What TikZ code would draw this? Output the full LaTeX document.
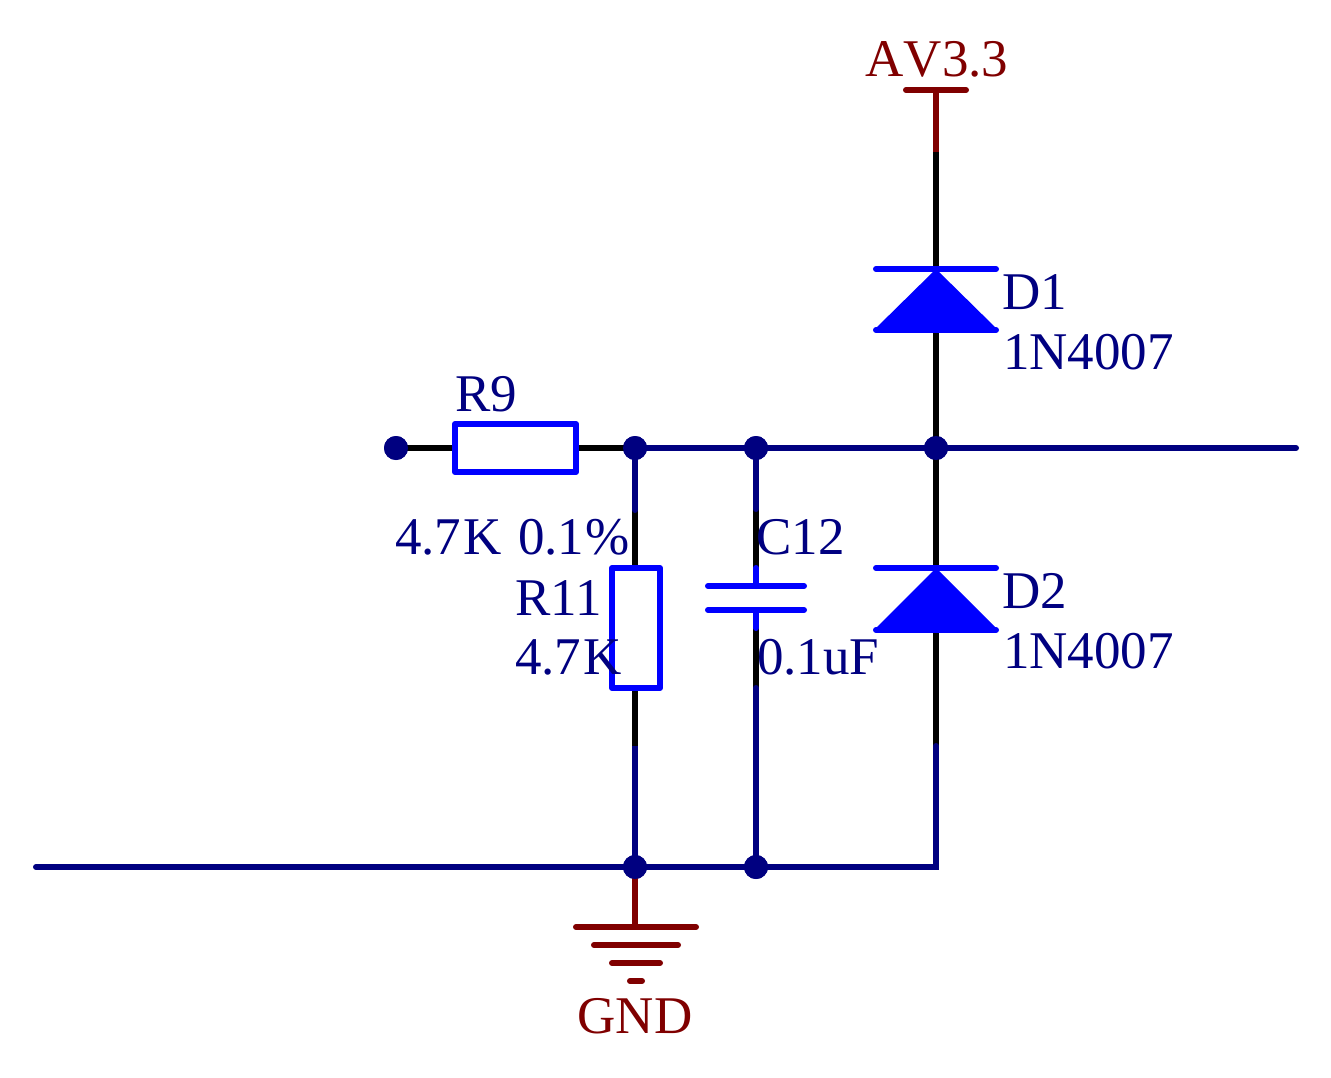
\documentclass[tikz,border=0pt]{standalone}
\usepackage{fontspec}
\setmainfont{Liberation Serif}
\newfontfamily\plainserif[Kerning=Off]{Liberation Serif}
\definecolor{wirec}{RGB}{0,0,128}
\definecolor{partc}{RGB}{0,0,255}
\definecolor{powc}{RGB}{128,0,0}
\tikzset{
  x=1pt,y=-1pt,
  wire/.style={draw=wirec,line width=6pt,line cap=round},
  pin/.style={draw=black,line width=6pt},
  pinb/.style={draw=partc,line width=6pt,line cap=round},
  pow/.style={draw=powc,line width=6pt,line cap=round},
  body/.style={draw=partc,line width=6pt,line join=round,inner sep=0pt,outer sep=0pt,rectangle},
  plate/.style={draw=partc,line width=6pt,line cap=round},
  junc/.style={circle,fill=wirec,inner sep=0pt,minimum size=24pt},
  lab/.style={text=wirec,font=\fontsize{53}{53}\selectfont,inner sep=0pt,anchor=base west},
  powlab/.style={text=powc,font=\fontsize{53}{53}\selectfont,inner sep=0pt,anchor=base},
}
\begin{document}
\begin{tikzpicture}
\useasboundingbox (0,0) rectangle (1331,1078);
% anchors
\coordinate (vcc) at (936,90);
\coordinate (vccL) at (906,90);
\coordinate (vccR) at (966,90);
\coordinate (vccend) at (936,152);
\coordinate (d1k) at (936,269);
\coordinate (d1a) at (936,330);
\coordinate (d2k) at (936,568);
\coordinate (d2a) at (936,630);
\coordinate (d2p) at (936,746);
\coordinate (corner) at (936,867);
\coordinate (right) at (1296,448);
\coordinate (left) at (36,867);
\coordinate (r11a) at (635,510);
\coordinate (r11t) at (635,568);
\coordinate (r11b) at (635,688);
\coordinate (r11p) at (635,746);
\coordinate (c1) at (756,586);
\coordinate (c2) at (756,610);
\coordinate (c1n) at (756,509);
\coordinate (c1p) at (756,568);
\coordinate (c2p) at (756,628);
\coordinate (c2n) at (756,688);
\coordinate (gnd) at (635,927);
% junctions (placed first so the wires can name them)
\node[junc] (j0) at (396,448) {};
\node[junc] (j1) at (635,448) {};
\node[junc] (j2) at (756,448) {};
\node[junc] (j3) at (936,448) {};
\node[junc] (j4) at (635,867) {};
\node[junc] (j5) at (756,867) {};
% wires
\draw[pin] (vccend) -- (d1k);
\draw[pow,line cap=butt] (vcc) -- (vccend);
\draw[pow] (vccL) -- (vccR);
\draw[pin] (d1a) -- (d2k);
\draw[pin] (d2a) -- (d2p);
\draw[wire] (j1.center) -- (right);
\draw[wire,line cap=butt] (d2p) -- (corner);
\draw[wire,line join=miter] (left) -- (corner) -- (d2p);
\draw[pin] (j0.center) -- (j1.center);
\draw[pin] (r11a) -- (r11t);
\draw[wire] (j1.center) -- (r11a);
\draw[pin] (r11b) -- (r11p);
\draw[wire,line cap=butt] (r11p) -- (j4.center);
\draw[pin] (c1n) -- (c1p);
\draw[pin] (c2p) -- (c2n);
\draw[wire] (j2.center) -- (c1n);
\draw[pinb] (c1p) -- (c1);
\draw[pinb] (c2) -- (c2p);
\draw[wire] (c2n) -- (j5.center);
\draw[pow,line cap=butt] (j4.center) -- (gnd);
% junctions redrawn on top
\foreach \p in {j0,j1,j2,j3,j4,j5} \fill[wirec] (\p.center) circle (12);
% R9
\node[body,fill=white,minimum width=121pt,minimum height=48pt] (r9) at (515.5,448) {};
% R11
\node[body,fill=white,minimum width=48pt,minimum height=120pt] (r11) at (636,628) {};
% C12
\draw[plate] (708,586) -- (804,586);
\draw[plate] (708,610) -- (804,610);
% D1
\fill[partc] (874,330) -- (936,269) -- (998,330) -- cycle;
\draw[plate] (876,269) -- (996,269);
\draw[plate] (876,330) -- (996,330);
% D2
\fill[partc] (874,630) -- (936,568) -- (998,630) -- cycle;
\draw[plate] (876,568) -- (996,568);
\draw[plate] (876,630) -- (996,630);
% ground
\draw[pow] (576,927) -- (696,927);
\draw[pow] (594,945) -- (678,945);
\draw[pow] (612,963) -- (660,963);
\draw[pow] (630,981) -- (642,981);
% labels
\node[powlab,font=\fontsize{53}{53}\plainserif] (tvcc) at (937,77) {AV3.3};
\node[powlab] (tgnd) at (635,1033) {GND};
\node[lab] (tr9) at (455,411) {R9};
\node[lab] (tr9v) at (395,554) {4.7\kern2pt K\hspace{16.5pt}0.1\kern1pt\%};
\node[lab] (tr11) at (515,615) {R11};
\node[lab] (tr11v) at (515,674) {4.7\kern2pt K};
\node[lab] (tc) at (756,554) {C12};
\node[lab] (tcv) at (757,674) {0.1uF};
\node[lab] (td1) at (1002,309) {D1};
\node[lab] (td1v) at (1003,369) {1N4007};
\node[lab] (td2) at (1002,608) {D2};
\node[lab] (td2v) at (1003,668) {1N4007};
\end{tikzpicture}
\end{document}
